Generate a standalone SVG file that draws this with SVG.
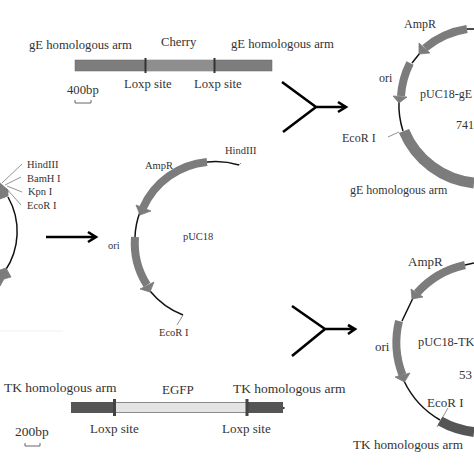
<svg xmlns="http://www.w3.org/2000/svg" width="474" height="474" viewBox="0 0 474 474">
<style>
text{font-family:"Liberation Serif","Times New Roman",serif;fill:#333}
.s{font-size:10.5px}
.m{font-size:12px}
.g{font-size:12.7px}
.k{font-size:13px}
.w{font-size:13.5px}
.l{fill:none;stroke:#111;stroke-width:1.5}
.t{fill:none;stroke:#777;stroke-width:.8}
.b{fill:none;stroke:#7c7c7c;stroke-width:8}
.h{fill:#7c7c7c;stroke:#7c7c7c;stroke-width:.8;stroke-linejoin:round}
.y{fill:none;stroke:#000;stroke-width:2.6}
.sb{fill:none;stroke:#666;stroke-width:1}
</style>
<rect width="474" height="474" fill="#fff"/>
<line x1="0" y1="331" x2="63" y2="331" stroke="#f0f0f0"/>

<g id="plasmid-left">
<path class="l" d="M8,197 A70,70 0 0 1 5,271"/>
<path d="M0,183 L8,190 L8,196 L0,199Z" class="h"/>
<path d="M0,270 L6,268 L11,277 L4,279 L0,286Z" class="h"/>
<path class="t" d="M2,183 L22,164M5,185 L21,177M7,186 L22,192M6,188 L21,205"/>
<text class="s" x="27" y="168">HindIII</text>
<text class="s" x="27" y="182">BamH I</text>
<text class="s" x="28" y="195">Kpn I</text>
<text class="s" x="27" y="209">EcoR I</text>
</g>

<g id="plasmid-puc18">
<path class="l" d="M207,162 A80,80 0 0 1 239,165"/>
<path class="l" d="M135,237 A78,78 0 0 1 140,212"/>
<path class="l" d="M150,291 A80,80 0 0 0 183,315"/>
<path class="t" d="M239,165 L241,163M183,315 L177,325"/>
<path class="b" d="M207,162 A78,78 0 0 0 143,208"/>
<path class="h" d="M136,205 L151,211 L140,215Z"/>
<path class="b" d="M135,237 A78,78 0 0 0 147,285"/>
<path class="h" d="M154,282 L140,289 L150,292Z"/>
<text class="s" x="145" y="169">AmpR</text>
<text class="s" x="225" y="154">HindIII</text>
<text class="s" x="183" y="240">pUC18</text>
<text class="s" x="108" y="249">ori</text>
<text class="s" x="159" y="336">EcoR I</text>
</g>

<g id="plasmid-ge">
<path class="l" d="M467,29 L474,29"/>
<path class="l" d="M420,53 L412,63"/>
<path class="l" d="M399,101 A85,85 0 0 0 403,131"/>
<path class="t" d="M388,137 L399,132"/>
<path class="b" d="M467,29 A85,85 0 0 0 425,48"/>
<path class="h" d="M419,43 L430,53 L419,54Z"/>
<path class="b" d="M410,63 A85,85 0 0 0 401,96"/>
<path class="h" d="M393,96 L407,97 L399,103Z"/>
<path class="b" style="stroke-width:11" d="M404,131 A85,85 0 0 0 474,183"/>
<text class="m" x="404" y="28">AmpR</text>
<text class="m" x="379" y="82">ori</text>
<text class="m" x="420" y="98">pUC18-gE</text>
<text class="m" x="456" y="129">741</text>
<text class="m" x="342" y="142">EcoR I</text>
<text class="m" x="350" y="194">gE homologous arm</text>
</g>

<g id="plasmid-tk">
<path class="l" d="M465,265 L474,263"/>
<path class="l" d="M413,298 L402,321"/>
<path class="l" d="M404,381 A90,90 0 0 0 440,420"/>
<path class="t" d="M448,408 L437,427"/>
<path class="b" d="M465,265 A90,90 0 0 0 417,293"/>
<path class="h" d="M411,289 L423,297 L412,299Z"/>
<path class="b" d="M399,321 A90,90 0 0 0 402.500,375"/>
<path class="h" d="M395,377 L410,373 L404.500,382Z"/>
<path style="fill:none;stroke:#555;stroke-width:10" d="M440,421 A90,90 0 0 0 474,432"/>
<text class="k" x="408" y="266">AmpR</text>
<text class="k" x="375" y="351">ori</text>
<text style="font-size:12.400px" x="418" y="346">pUC18-TK</text>
<text class="k" x="459" y="379">53</text>
<text class="k" x="427" y="407">EcoR I</text>
<text style="font-size:13.200px" x="353" y="449">TK homologous arm</text>
</g>

<g id="cassette-ge">
<rect x="75" y="60" width="197" height="11" fill="#7d7d7d" stroke="#666" stroke-width=".5"/>
<rect x="146" y="60" width="68" height="11" fill="#8e8e8e"/>
<rect x="144.500" y="58" width="2" height="15" fill="#333"/>
<rect x="213.500" y="58" width="2" height="15" fill="#333"/>
<text class="g" x="29" y="49">gE homologous arm</text>
<text class="g" x="161" y="46">Cherry</text>
<text class="g" x="231" y="48">gE homologous arm</text>
<text class="g" x="124" y="88">Loxp site</text>
<text class="g" x="194" y="88">Loxp site</text>
<text class="g" x="67" y="94">400bp</text>
<path class="sb" d="M75,100 V103 H91 V100"/>
</g>

<g id="cassette-tk">
<rect x="71" y="402" width="212" height="11" fill="#555"/>
<rect x="115" y="402.500" width="132" height="10" fill="#e4e4e4" stroke="#8a8a8a"/>
<rect x="113" y="399" width="3" height="17" fill="#444"/>
<rect x="245.500" y="399" width="3" height="17" fill="#444"/>
<rect x="283" y="407" width="1.500" height="2" fill="#333"/>
<text class="w" x="4" y="392">TK homologous arm</text>
<text class="k" x="162" y="394">EGFP</text>
<text class="w" x="233" y="393">TK homologous arm</text>
<text class="k" x="90" y="433">Loxp site</text>
<text class="k" x="222" y="433">Loxp site</text>
<text class="w" x="15" y="436">200bp</text>
<path class="sb" d="M25,443 V446 H40 V443"/>
</g>

<g id="connectors">
<path class="y" d="M282,82 L316,107 L283,132M316,107 H346M338,102 L346,107 L338,112"/>
<path class="y" d="M292,306 L325,329 L292,356M325,329 H355M348,325 L355,329 L348,334"/>
<path class="y" d="M46,237 H96M88,232 L96,237 L88,242"/>
</g>
</svg>
